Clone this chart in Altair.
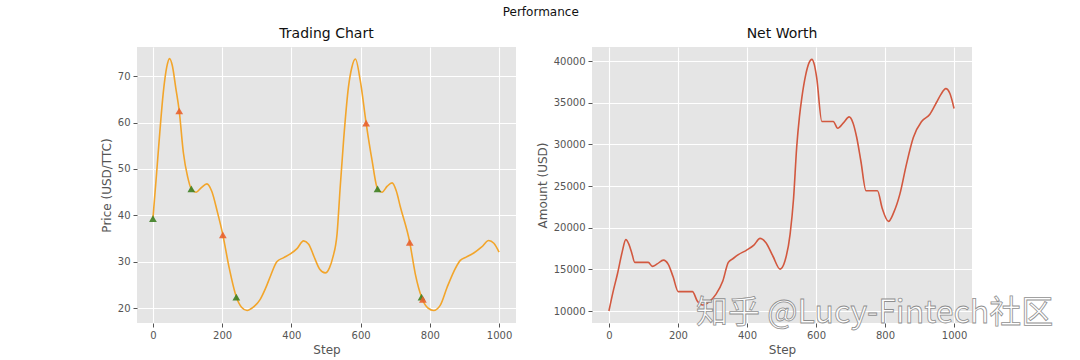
import altair as alt
import pandas as pd

# ---- Price series (Trading Chart) ----
price_steps = [0, 10, 20, 30, 40, 48, 56, 66, 76, 88, 100, 111, 125, 140, 156, 170, 186, 202, 220, 241,
               256, 272, 290, 310, 325, 340, 358, 378, 397, 417, 435, 450, 465, 482, 498, 510, 520, 532,
               541, 551, 565, 575, 585, 599, 616, 633, 649, 662, 677, 691, 703, 715, 742, 758, 777,
               795, 811, 830, 850, 870, 888, 905, 927, 950, 970, 985, 1000]
price_vals = [39.3, 48.5, 58.0, 66.5, 72.0, 73.8, 72.3, 67.5, 62.5, 53.5, 48.4, 45.7, 45.0, 46.0, 46.8,
              45.2, 40.8, 35.8, 28.8, 22.4, 20.2, 19.5, 20.2, 21.9, 24.2, 27.0, 30.0, 30.9, 31.7,
              32.9, 34.5, 33.8, 31.2, 28.4, 27.6, 28.7, 31.0, 36.0, 46.0, 56.3, 67.7, 72.0, 73.7,
              69.1, 59.9, 51.9, 45.7, 45.0, 46.3, 47.0, 45.3, 41.8, 34.2, 27.4, 22.2, 20.0, 19.5,
              20.6, 24.5, 28.0, 30.3, 31.0, 31.9, 33.2, 34.6, 34.0, 32.1]

# ---- Trades ----
buy_steps = [0, 111, 241, 649, 776]
buy_vals = [39.3, 45.7, 22.4, 45.7, 22.4]
sell_steps = [76, 202, 616, 742, 780]
sell_vals = [62.5, 35.8, 59.9, 34.2, 21.9]

# ---- Net worth series ----
nw_steps = [0, 12, 25, 38, 49, 58, 66, 75, 114, 126, 140, 158, 172, 186, 201, 242, 256, 272, 290,
            310, 330, 346, 360, 375, 399, 420, 438, 455, 475, 496, 510, 525, 535, 544, 552, 559, 570,
            580, 588, 595, 602, 617, 650, 663, 680, 696, 707, 718, 730, 745, 778, 792, 810, 825, 843,
            862, 882, 906, 930, 949, 962, 976, 988, 1000]
nw_vals = [10000, 12300, 14500, 17000, 18560, 18000, 17000, 15840, 15840, 15360, 15650, 16110, 15600,
           14100, 12320, 12320, 11200, 10720, 11100, 12000, 13600, 15840, 16300, 16760, 17310, 17900,
           18710, 18200, 16600, 15030, 16000, 19230, 23500, 29620, 33300, 35610, 38300, 39800, 40200,
           39600, 38010, 32740, 32740, 31930, 32600, 33300, 32600, 30820, 28000, 24430, 24430, 22300,
           20750, 21800, 24020, 27600, 30820, 32740, 33610, 35020, 36000, 36690, 36100, 34300]

price_df = pd.DataFrame({"Step": price_steps, "Price": price_vals})
trades_df = pd.DataFrame({
    "Step": buy_steps + sell_steps,
    "Price": buy_vals + sell_vals,
    "Type": ["buy"] * len(buy_steps) + ["sell"] * len(sell_steps),
})
nw_df = pd.DataFrame({"Step": nw_steps, "Amount": nw_vals})

FONT = "DejaVu Sans"
X_TICKS = [0, 200, 400, 600, 800, 1000]

x_left = alt.X("Step:Q", title="Step", scale=alt.Scale(domain=[-46, 1049], nice=False, zero=False),
               axis=alt.Axis(values=X_TICKS, format="d"))

price_line = alt.Chart(price_df).mark_line(color="#F2A52B", strokeWidth=1.6, interpolate="monotone").encode(
    x=x_left,
    y=alt.Y("Price:Q", title="Price (USD/TTC)",
            scale=alt.Scale(domain=[16.8, 76.3], nice=False, zero=False),
            axis=alt.Axis(values=[20, 30, 40, 50, 60, 70])),
)

trade_pts = alt.Chart(trades_df).mark_point(shape="triangle-up", filled=True, size=60, opacity=0.9).encode(
    x=alt.X("Step:Q"),
    y=alt.Y("Price:Q"),
    color=alt.Color("Type:N", scale=alt.Scale(domain=["buy", "sell"], range=["#3E7F22", "#E8622F"]),
                    legend=None),
)

left = alt.layer(price_line, trade_pts).properties(
    width=379, height=276,
    title=alt.TitleParams("Trading Chart", fontSize=14, font=FONT, fontWeight="normal", color="#111111", offset=6),
)

nw_line = alt.Chart(nw_df).mark_line(color="#D2583F", strokeWidth=1.6, interpolate="monotone").encode(
    x=alt.X("Step:Q", title="Step", scale=alt.Scale(domain=[-49, 1052], nice=False, zero=False),
            axis=alt.Axis(values=X_TICKS, format="d")),
    y=alt.Y("Amount:Q", title="Amount (USD)",
            scale=alt.Scale(domain=[8560, 41680], nice=False, zero=False),
            axis=alt.Axis(values=[10000, 15000, 20000, 25000, 30000, 35000, 40000], format="d")),
)

wm_df = pd.DataFrame({"t": ["知乎 @Lucy-Fintech社区"]})
watermark = alt.Chart(wm_df).mark_text(
    font="Noto Sans CJK SC", fontSize=32, align="left", baseline="middle",
    color="#FFFFFF", stroke="#8A8A8A", strokeWidth=0.8, opacity=0.95,
).encode(x=alt.value(104), y=alt.value(266), text="t:N")

right = alt.layer(nw_line, watermark).properties(
    width=380, height=276,
    title=alt.TitleParams("Net Worth", fontSize=14, font=FONT, fontWeight="normal", color="#111111", offset=6),
)

chart = alt.hconcat(left, right, spacing=20).properties(
    title=alt.TitleParams("Performance", fontSize=12, font=FONT, fontWeight="normal", color="#111111",
                          anchor="middle", offset=8, dx=-36),
    padding={"left": 100, "top": 6, "right": 5, "bottom": 5},
    background="#FFFFFF",
).configure_view(
    fill="#E5E5E5", stroke=None,
).configure_axis(
    grid=True, gridColor="#FFFFFF", gridWidth=1.1, domain=False,
    tickColor="#555555", tickSize=4, labelColor="#555555", labelFont=FONT, labelFontSize=10,
    titleFont=FONT, titleFontSize=12, titleColor="#555555", titleFontWeight="normal", labelPadding=3,
)

chart.save("out.html", embed_options={"renderer": "svg", "actions": False})
